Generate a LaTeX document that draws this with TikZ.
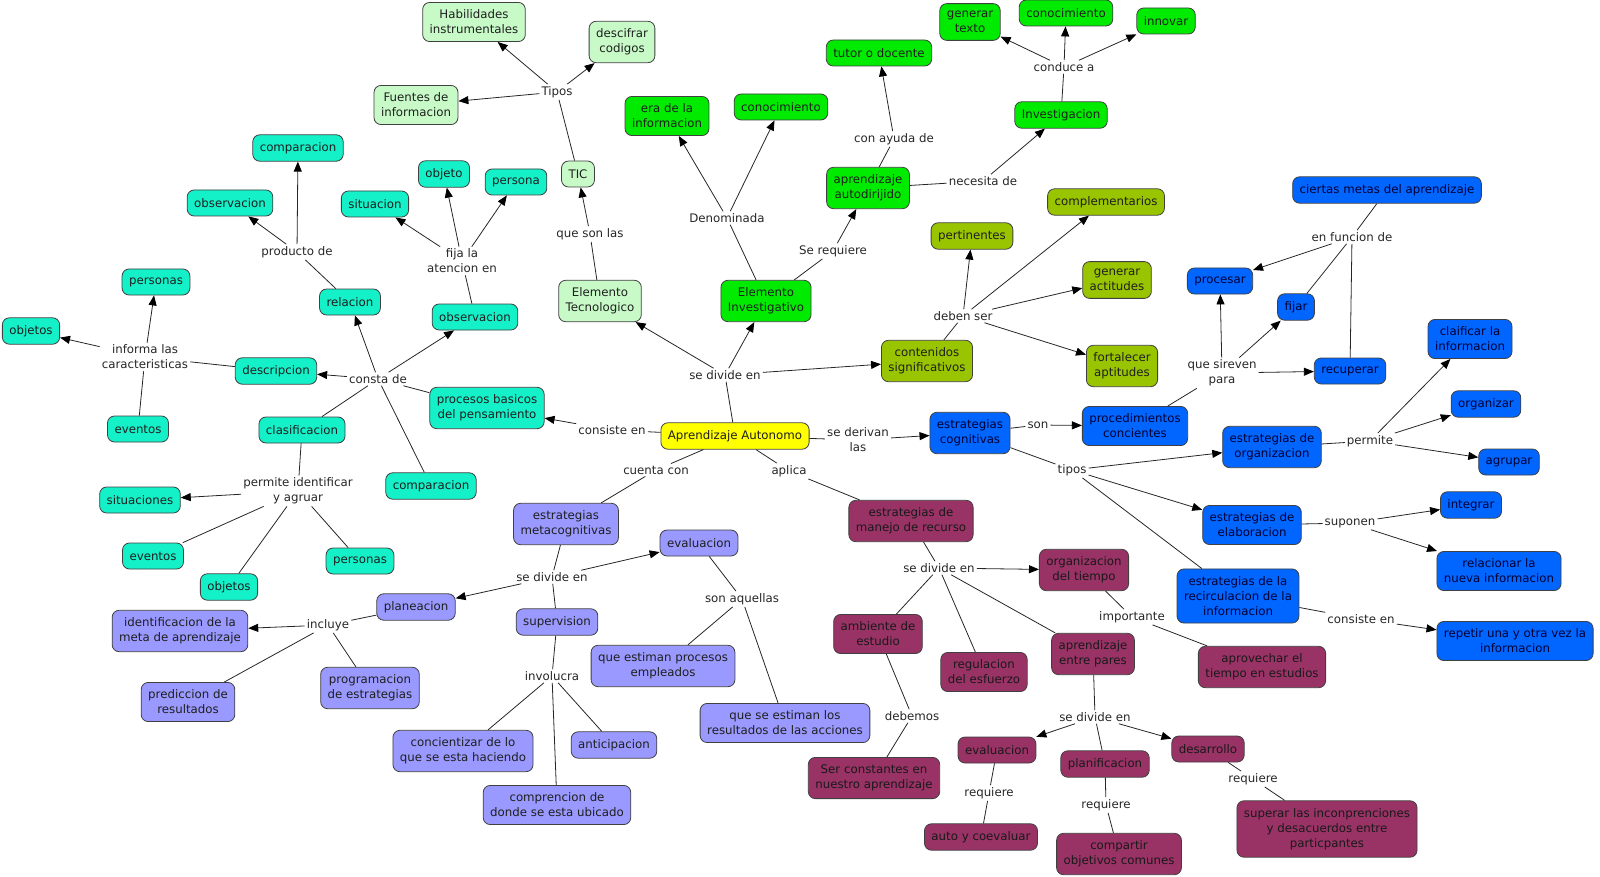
\documentclass[tikz,border=0pt]{standalone}
\usepackage{fontspec}
\setmainfont{DejaVu Sans}
\usetikzlibrary{arrows.meta}
\definecolor{cyc}{RGB}{20,240,200}
\definecolor{lgc}{RGB}{200,250,200}
\definecolor{grc}{RGB}{0,235,0}
\definecolor{olc}{RGB}{153,196,0}
\definecolor{blc}{RGB}{0,102,255}
\definecolor{lvc}{RGB}{153,153,255}
\definecolor{mrc}{RGB}{153,51,102}
\definecolor{ylc}{RGB}{255,255,0}
\tikzset{
  box/.style={draw=black!75, line width=0.8pt, rounded corners=7pt, align=center,
    inner xsep=7pt, inner ysep=7.5pt, minimum height=26pt, text=black!88,
    font=\fontsize{11.8}{15}\selectfont},
  lk/.style={align=center, inner sep=2pt, text=black!85, font=\fontsize{11.8}{15}\selectfont},
  cy/.style={box, fill=cyc},
  lg/.style={box, fill=lgc},
  gr/.style={box, fill=grc},
  ol/.style={box, fill=olc},
  bl/.style={box, fill=blc, text=black!80!blue},
  lv/.style={box, fill=lvc},
  mr/.style={box, fill=mrc, text=black!90},
  yl/.style={box, fill=ylc},
  ln/.style={draw=black!85, line width=0.8pt},
  ar/.style={ln, -{Triangle[length=10pt,width=8pt,fill=black,color=black]}}
}
\begin{document}
\begin{tikzpicture}[x=1pt,y=-1pt]
\useasboundingbox (0,0) rectangle (1600,877);
% light green
\node[lg] (hab) at (474,22) {Habilidades\\instrumentales};
\node[lg] (desc) at (622,42) {descifrar\\codigos};
\node[lg] (fuentes) at (416,105) {Fuentes de\\informacion};
\node[lg] (tic) at (578,174) {TIC};
\node[lg] (etec) at (600,301) {Elemento\\Tecnologico};
\node[lk] (tipos) at (557,92) {Tipos};
\node[lk] (queson) at (590,234) {que son las};
% cyan
\node[cy] (comp1) at (298,148) {comparacion};
\node[cy] (obs1) at (230,203) {observacion};
\node[cy] (sit) at (375,204) {situacion};
\node[cy] (obj) at (444,174) {objeto};
\node[cy] (pers) at (516,182) {persona};
\node[lk] (prod) at (297,252) {producto de};
\node[lk] (fija) at (462,261) {fija la\\atencion en};
\node[cy] (rel) at (350,302) {relacion};
\node[cy] (obs2) at (475,317) {observacion};
\node[cy] (pers1) at (156,282) {personas};
\node[cy] (objs1) at (31,331) {objetos};
\node[lk] (inf) at (145,357) {informa las\\caracteristicas};
\node[cy] (descr) at (276,371) {descripcion};
\node[lk] (consta) at (378,379) {consta de};
\node[cy] (ev1) at (138,429) {eventos};
\node[cy] (clas) at (302,430) {clasificacion};
\node[cy] (proc) at (487,408) {procesos basicos\\del pensamiento};
\node[lk] (perm) at (298,491) {permite identificar\\y agruar};
\node[cy] (comp2) at (431,486) {comparacion};
\node[cy] (sits) at (140,500) {situaciones};
\node[cy] (ev2) at (153,556) {eventos};
\node[cy] (objs2) at (229,587) {objetos};
\node[cy] (pers2) at (360,561) {personas};
% center
\node[yl] (aa) at (735,436) {Aprendizaje Autonomo};
\node[lk] (consiste) at (612,430) {consiste en};
\node[lk] (divide) at (725,375) {se divide en};
\node[lk] (derivan) at (858,440) {se derivan\\las};
\node[lk] (cuenta) at (656,470) {cuenta con};
\node[lk] (aplica) at (789,471) {aplica};
% green
\node[gr] (einv) at (766,301) {Elemento\\Investigativo};
\node[lk] (denom) at (727,218) {Denominada};
\node[gr] (era) at (667,116) {era de la\\informacion};
\node[gr] (con1) at (781,107) {conocimiento};
\node[lk] (sereq) at (833,251) {Se requiere};
\node[gr] (auto) at (868,188) {aprendizaje\\autodirijido};
\node[lk] (ayuda) at (894,139) {con ayuda de};
\node[gr] (tutor) at (879,53) {tutor o docente};
\node[lk] (necesita) at (983,181) {necesita de};
\node[gr] (inv) at (1061,115) {Investigacion};
\node[lk] (conduce) at (1064,67) {conduce a};
\node[gr] (gtex) at (970,22) {generar\\texto};
\node[gr] (con2) at (1066,13) {conocimiento};
\node[gr] (innov) at (1166,21) {innovar};
% olive
\node[ol] (cont) at (927,361) {contenidos\\significativos};
\node[lk] (deben) at (963,316) {deben ser};
\node[ol] (pert) at (972,236) {pertinentes};
\node[ol] (compl) at (1106,202) {complementarios};
\node[ol] (gact) at (1117,280) {generar\\actitudes};
\node[ol] (fort) at (1122,366) {fortalecer\\aptitudes};
% blue
\node[bl] (ecog) at (970,433) {estrategias\\cognitivas};
\node[lk] (son) at (1038,425) {son};
\node[bl] (procd) at (1135,426) {procedimientos\\concientes};
\node[lk] (sirven) at (1222,373) {que sireven\\para};
\node[bl] (procs) at (1220,281) {procesar};
\node[bl] (fijar) at (1296,307) {fijar};
\node[bl] (recup) at (1350,371) {recuperar};
\node[bl] (metas) at (1387,190) {ciertas metas del aprendizaje};
\node[lk] (funcion) at (1352,237) {en funcion de};
\node[lk] (tipos2) at (1072,470) {tipos};
\node[bl] (eorg) at (1272,447) {estrategias de\\organizacion};
\node[lk] (permite) at (1370,441) {permite};
\node[bl] (clar) at (1470,339) {claificar la\\informacion};
\node[bl] (orgz) at (1486,404) {organizar};
\node[bl] (agr) at (1509,462) {agrupar};
\node[bl] (elab) at (1252,525) {estrategias de\\elaboracion};
\node[lk] (suponen) at (1350,523) {suponen};
\node[bl] (integ) at (1471,505) {integrar};
\node[bl] (relac) at (1499,571) {relacionar la\\nueva informacion};
\node[bl] (recirc) at (1238,596) {estrategias de la\\recirculacion de la\\informacion};
\node[lk] (consiste2) at (1361,619) {consiste en};
\node[bl] (repet) at (1515,641) {repetir una y otra vez la\\informacion};
% lavender
\node[lv] (emeta) at (566,524) {estrategias\\metacognitivas};
\node[lk] (divmeta) at (552,577) {se divide en};
\node[lv] (eval1) at (699,543) {evaluacion};
\node[lv] (plan) at (416,607) {planeacion};
\node[lv] (sup) at (557,622) {supervision};
\node[lk] (incluye) at (328,625) {incluye};
\node[lv] (ident) at (180,631) {identificacion de la\\meta de aprendizaje};
\node[lv] (pred) at (188,702) {prediccion de\\resultados};
\node[lv] (prog) at (370,688) {programacion\\de estrategias};
\node[lk] (aquellas) at (742,599) {son aquellas};
\node[lv] (qep) at (663,666) {que estiman procesos\\empleados};
\node[lv] (qer) at (785,723) {que se estiman los\\resultados de las acciones};
\node[lk] (involucra) at (552,676) {involucra};
\node[lv] (conc) at (463,751) {concientizar de lo\\que se esta haciendo};
\node[lv] (antic) at (614,745) {anticipacion};
\node[lv] (compr) at (557,805) {comprencion de\\donde se esta ubicado};
% maroon
\node[mr] (eman) at (911,521) {estrategias de\\manejo de recurso};
\node[lk] (divman) at (939,568) {se divide en};
\node[mr] (otiempo) at (1084,570) {organizacion\\del tiempo};
\node[lk] (importante) at (1132,617) {importante};
\node[mr] (aprov) at (1262,667) {aprovechar el\\tiempo en estudios};
\node[mr] (amb) at (878,634) {ambiente de\\estudio};
\node[lk] (debemos) at (912,716) {debemos};
\node[mr] (ser) at (874,778) {Ser constantes en\\nuestro aprendizaje};
\node[mr] (reg) at (984,672) {regulacion\\del esfuerzo};
\node[mr] (pares) at (1093,654) {aprendizaje\\entre pares};
\node[lk] (divpares) at (1095,717) {se divide en};
\node[mr] (eval2) at (997,750) {evaluacion};
\node[mr] (planif) at (1105,764) {planificacion};
\node[mr] (desa) at (1208,749) {desarrollo};
\node[lk] (req1) at (989,793) {requiere};
\node[lk] (req2) at (1106,805) {requiere};
\node[lk] (req3) at (1253,779) {requiere};
\node[mr] (autoc) at (981,837) {auto y coevaluar};
\node[mr] (compart) at (1119,854) {compartir\\objetivos comunes};
\node[mr] (superar) at (1327,829) {superar las inconprenciones\\y desacuerdos entre\\particpantes};
% edges
\draw[ln] (etec) -- (queson); \draw[ar] (queson) -- (tic);
\draw[ln] (tic) -- (tipos); \draw[ar] (tipos) -- (hab); \draw[ar] (tipos) -- (desc); \draw[ar] (tipos) -- (fuentes);
\draw[ln] (rel) -- (prod); \draw[ar] (prod) -- (comp1); \draw[ar] (prod) -- (obs1);
\draw[ln] (obs2) -- (fija); \draw[ar] (fija) -- (sit); \draw[ar] (fija) -- (obj); \draw[ar] (fija) -- (pers);
\draw[ln] (proc) -- (consta); \draw[ar] (consta) -- (descr); \draw[ar] (consta) -- (obs2); \draw[ar] (consta) -- (rel);
\draw[ln] (clas) -- (consta); \draw[ln] (comp2) -- (consta);
\draw[ln] (descr) -- (inf); \draw[ar] (inf) -- (pers1); \draw[ar] (inf) -- (objs1); \draw[ln] (ev1) -- (inf);
\draw[ln] (clas) -- (perm); \draw[ar] (perm) -- (sits); \draw[ln] (ev2) -- (perm); \draw[ln] (objs2) -- (perm); \draw[ln] (pers2) -- (perm);
\draw[ln] (aa) -- (consiste); \draw[ar] (consiste) -- (proc);
\draw[ln] (aa) -- (divide); \draw[ar] (divide) -- (etec); \draw[ar] (divide) -- (einv); \draw[ar] (divide) -- (cont);
\draw[ln] (aa) -- (derivan); \draw[ar] (derivan) -- (ecog);
\draw[ln] (aa) -- (cuenta); \draw[ln] (cuenta) -- (emeta);
\draw[ln] (aa) -- (aplica); \draw[ln] (aplica) -- (eman);
\draw[ln] (einv) -- (denom); \draw[ar] (denom) -- (era); \draw[ar] (denom) -- (con1);
\draw[ln] (einv) -- (sereq); \draw[ar] (sereq) -- (auto);
\draw[ln] (auto) -- (ayuda); \draw[ar] (ayuda) -- (tutor);
\draw[ln] (auto) -- (necesita); \draw[ar] (necesita) -- (inv);
\draw[ln] (inv) -- (conduce); \draw[ar] (conduce) -- (gtex); \draw[ar] (conduce) -- (con2); \draw[ar] (conduce) -- (innov);
\draw[ln] (cont) -- (deben); \draw[ar] (deben) -- (pert); \draw[ar] (deben) -- (compl); \draw[ar] (deben) -- (gact); \draw[ar] (deben) -- (fort);
\draw[ln] (ecog) -- (son); \draw[ar] (son) -- (procd);
\draw[ln] (procd) -- (sirven); \draw[ar] (sirven) -- (procs); \draw[ar] (sirven) -- (fijar); \draw[ar] (sirven) -- (recup);
\draw[ln] (metas) -- (funcion); \draw[ar] (funcion) -- (procs); \draw[ln] (funcion) -- (fijar); \draw[ln] (funcion) -- (recup);
\draw[ln] (ecog) -- (tipos2); \draw[ar] (tipos2) -- (eorg); \draw[ar] (tipos2) -- (elab); \draw[ln] (tipos2) -- (recirc);
\draw[ln] (eorg) -- (permite); \draw[ar] (permite) -- (clar); \draw[ar] (permite) -- (orgz); \draw[ar] (permite) -- (agr);
\draw[ln] (elab) -- (suponen); \draw[ar] (suponen) -- (integ); \draw[ar] (suponen) -- (relac);
\draw[ln] (recirc) -- (consiste2); \draw[ar] (consiste2) -- (repet);
\draw[ln] (emeta) -- (divmeta); \draw[ar] (divmeta) -- (plan); \draw[ar] (divmeta) -- (eval1); \draw[ln] (divmeta) -- (sup);
\draw[ln] (plan) -- (incluye); \draw[ar] (incluye) -- (ident); \draw[ln] (incluye) -- (pred); \draw[ln] (incluye) -- (prog);
\draw[ln] (eval1) -- (aquellas); \draw[ln] (aquellas) -- (qep); \draw[ln] (aquellas) -- (qer);
\draw[ln] (sup) -- (involucra); \draw[ln] (involucra) -- (conc); \draw[ln] (involucra) -- (antic); \draw[ln] (involucra) -- (compr);
\draw[ln] (eman) -- (divman); \draw[ar] (divman) -- (otiempo); \draw[ln] (divman) -- (amb); \draw[ln] (divman) -- (reg); \draw[ln] (divman) -- (pares);
\draw[ln] (otiempo) -- (importante); \draw[ln] (importante) -- (aprov);
\draw[ln] (amb) -- (debemos); \draw[ln] (debemos) -- (ser);
\draw[ln] (pares) -- (divpares); \draw[ar] (divpares) -- (eval2); \draw[ar] (divpares) -- (desa); \draw[ln] (divpares) -- (planif);
\draw[ln] (eval2) -- (req1); \draw[ln] (req1) -- (autoc);
\draw[ln] (planif) -- (req2); \draw[ln] (req2) -- (compart);
\draw[ln] (desa) -- (req3); \draw[ln] (req3) -- (superar);
\end{tikzpicture}
\end{document}
